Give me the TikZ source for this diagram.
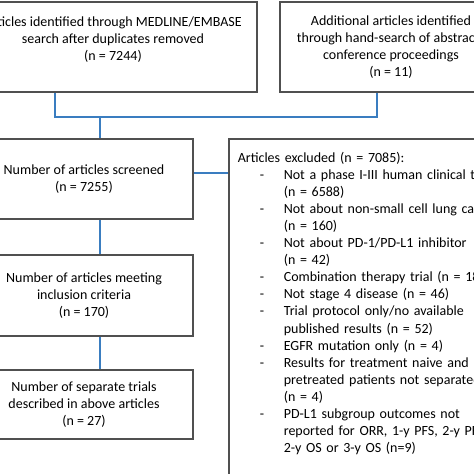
\documentclass[tikz,border=0pt]{standalone}
\usepackage{fontspec}
\setmainfont{Carlito}
\usepackage{tikz}
\usetikzlibrary{calc}

\definecolor{boxgray}{HTML}{505050}
\definecolor{linkblue}{HTML}{3A7DC0}

\newcommand{\xitem}[1]{\hspace*{22pt}\makebox[24pt][l]{-}#1}
\newcommand{\xcont}[1]{\hspace*{46pt}#1}

\begin{document}
\begin{tikzpicture}[x=1pt,y=-1pt,font=\fontsize{14}{17.1}\selectfont,
    box node/.style={rectangle,draw=boxgray,line width=1.6pt,align=center,inner sep=0pt},
    link/.style={draw=linkblue,line width=2.4pt}]

  \clip (0,0) rectangle (474,474);
  \fill[white] (0,0) rectangle (474,474);

  \node[box node,minimum width=288pt,minimum height=90pt] (search) at (113,47)
    {Articles identified through MEDLINE/EMBASE\\search after duplicates removed\\(n = 7244)\\ \mbox{}};
  \node[box node,minimum width=222pt,minimum height=90pt] (hand) at (391,47)
    {Additional articles identified\\through hand-search of abstracts\\conference proceedings\\(n = 11)};

  \node[box node,minimum width=218pt,minimum height=80pt] (screened) at (84,179)
    {Number of articles screened\\(n = 7255)};
  \node[box node,minimum width=218pt,minimum height=81pt] (meeting) at (84,295.5)
    {Number of articles meeting\\inclusion criteria\\(n = 170)};
  \node[box node,minimum width=218pt,minimum height=69pt] (trials) at (84,404.5)
    {Number of separate trials\\described in above articles\\(n = 27)};

  \node[box node,align=left,anchor=north west,text width=400pt,
        inner xsep=9pt,inner ysep=13pt] (excluded) at (228,138)
    {Articles excluded (n = 7085):\\
     \xitem{Not a phase I-III human clinical trial}\\
     \xcont{(n = 6588)}\\
     \xitem{Not about non-small cell lung cancer}\\
     \xcont{(n = 160)}\\
     \xitem{Not about PD-1/PD-L1 inhibitor}\\
     \xcont{(n = 42)}\\
     \xitem{Combination therapy trial (n = 180)}\\
     \xitem{Not stage 4 disease (n = 46)}\\
     \xitem{Trial protocol only/no available}\\
     \xcont{published results (n = 52)}\\
     \xitem{EGFR mutation only (n = 4)}\\
     \xitem{Results for treatment naive and}\\
     \xcont{pretreated patients not separated}\\
     \xcont{(n = 4)}\\
     \xitem{PD-L1 subgroup outcomes not}\\
     \xcont{reported for ORR, 1-y PFS, 2-y PFS,}\\
     \xcont{2-y OS or 3-y OS (n=9)}\\ \mbox{}};

  % connectors
  \coordinate (merge) at (100,117);
  \draw[link] ([xshift=-58pt]search.south) |- (merge) -| ([xshift=-14pt]hand.south);
  \draw[link] (merge) -- (merge |- screened.north);
  \draw[link] (screened.south -| merge) -- (meeting.north -| merge);
  \draw[link] (meeting.south -| merge) -- (trials.north -| merge);
  \draw[link] ([yshift=6pt]screened.east) -- ([yshift=6pt]screened.east -| excluded.west);

\end{tikzpicture}
\end{document}
